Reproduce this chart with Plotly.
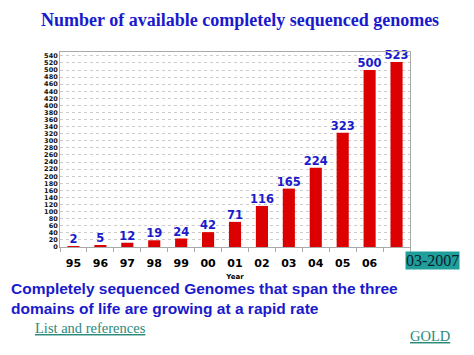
import plotly.graph_objects as go

years = ["95", "96", "97", "98", "99", "00", "01", "02", "03", "04", "05", "06", ""]
genomes = [2, 5, 12, 19, 24, 42, 71, 116, 165, 224, 323, 500, 523]
y_ticks = list(range(0, 541, 20))

x = list(range(len(genomes)))

# page body has an 8px default margin; figure is sized/placed to compensate
L, T, PW, PH = 52, 44, 350, 195
W, H = 466, 347
BOTTOM = T + PH

fig = go.Figure()
fig.add_trace(go.Bar(
    x=x, y=genomes, width=0.45,
    marker=dict(color="#dd0000", line=dict(width=0)),
    hoverinfo="skip",
))
fig.add_trace(go.Scatter(
    x=x, y=genomes, mode="text",
    text=["<b>%d</b>" % v for v in genomes], textposition="top center",
    textfont=dict(family="DejaVu Sans", size=11.5, color="#1a1acc"),
    cliponaxis=False, hoverinfo="skip",
))

fig.update_layout(
    width=W, height=H,
    margin=dict(l=L, r=W - L - PW, t=T, b=H - BOTTOM, autoexpand=False),
    paper_bgcolor="white", plot_bgcolor="white",
    showlegend=False,
)
fig.update_xaxes(
    range=[-0.5, len(genomes) - 0.5],
    tickvals=x, ticktext=["<b>%s</b>" % t for t in years],
    tickfont=dict(family="DejaVu Sans", size=11, color="black"),
    showgrid=False, showline=True, linecolor="#aaaaaa", mirror=True, linewidth=1,
    ticks="", ticklabelstandoff=6, automargin=False,
    minor=dict(tick0=-0.5, dtick=1, ticks="outside", ticklen=4, tickcolor="#aaaaaa", showgrid=False),
    title=dict(text="<b>Year</b>", font=dict(family="DejaVu Sans", size=7, color="black"), standoff=4),
    zeroline=False,
)
fig.update_yaxes(
    range=[0, 551],
    tickvals=y_ticks, ticktext=["<b>%d</b>" % v for v in y_ticks],
    tickfont=dict(family="DejaVu Sans", size=6.5, color="#111111"),
    showgrid=True, gridcolor="#cccccc", griddash="dot", gridwidth=1,
    showline=True, linecolor="#aaaaaa", mirror=True, linewidth=1,
    ticks="", zeroline=False, automargin=False,
)

def px_x(p):
    return (p - L) / PW

fig.add_annotation(
    text="<b>Number of available completely sequenced genomes</b>",
    xref="paper", yref="paper", x=px_x(232), y=1, yshift=T - 12,
    xanchor="center", yanchor="middle", showarrow=False,
    font=dict(family="Liberation Serif", size=18, color="#1a1acc"),
)
fig.add_annotation(
    text="03-2007", xref="paper", yref="paper",
    x=px_x(424), y=0, yshift=-(252 - BOTTOM), xanchor="center", yanchor="middle",
    showarrow=False, bgcolor="#1f9e9a", borderpad=0,
    font=dict(family="Liberation Serif", size=16, color="#0a2030"),
)
fig.add_annotation(
    text="<b>Completely sequenced Genomes that span the three<br>domains of life are growing at a rapid rate</b>",
    xref="paper", yref="paper", x=px_x(1), y=0, yshift=-(290 - BOTTOM),
    xanchor="left", yanchor="middle", align="left", showarrow=False,
    font=dict(family="Liberation Sans", size=15.5, color="#1a1acc"),
)
fig.add_annotation(
    text="<u>List and references</u>", xref="paper", yref="paper",
    x=px_x(25), y=0, yshift=-(320 - BOTTOM), xanchor="left", yanchor="middle",
    showarrow=False, font=dict(family="Liberation Serif", size=14.5, color="#2a8a7a"),
)
fig.add_annotation(
    text="<u>GOLD</u>", xref="paper", yref="paper",
    x=px_x(422), y=0, yshift=-(328 - BOTTOM), xanchor="center", yanchor="middle",
    showarrow=False, font=dict(family="Liberation Serif", size=14.5, color="#2a8a7a"),
)

fig.write_html("out.html")
